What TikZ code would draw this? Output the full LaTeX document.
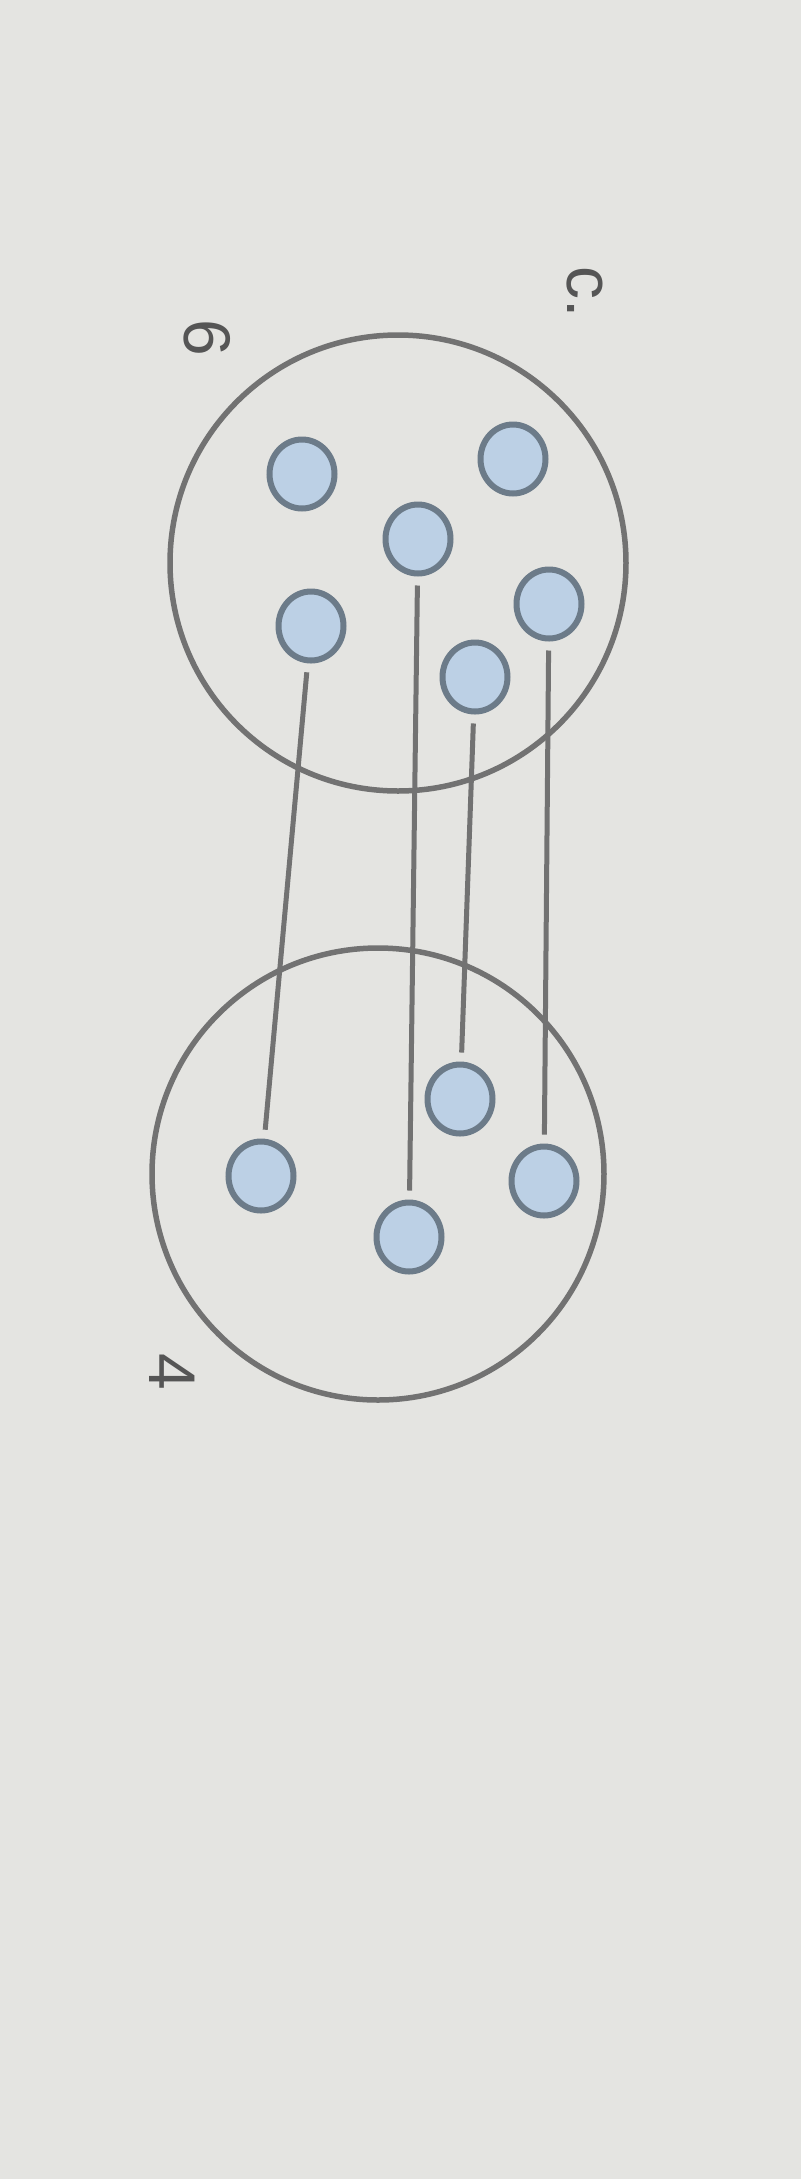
\documentclass[tikz,border=0pt]{standalone}
\usepackage{fontspec}
\setmainfont{Liberation Sans}
\usetikzlibrary{shapes.geometric}
\definecolor{paper}{HTML}{E4E4E1}
\definecolor{ring}{HTML}{727272}
\definecolor{dotfill}{HTML}{BCD0E5}
\definecolor{dotedge}{HTML}{6C7B89}
\definecolor{ink}{HTML}{555555}
\begin{document}
\begin{tikzpicture}[x=1pt,y=-1pt,
  setring/.style={circle,draw=ring,line width=5.5pt,minimum size=#1,inner sep=0pt,outer sep=0pt},
  elem/.style={ellipse,draw=dotedge,fill=dotfill,line width=6pt,minimum width=65pt,minimum height=69pt,inner sep=0pt,outer sep=0pt},
  link/.style={draw=ring,line width=5pt,shorten <=12pt,shorten >=12pt},
  lbl/.style={text=ink,font=\fontsize{66}{66}\selectfont,rotate=-90,inner sep=0pt}]
\fill[paper] (0,0) rectangle (801,2179);
\useasboundingbox (0,0) rectangle (801,2179);
% sets
\node[setring=456pt] (setA) at (398,563) {};
\node[setring=452pt] (setB) at (378,1174) {};
% elements of the first set
\node[elem] (a1) at (302,474) {};
\node[elem] (a2) at (513,459) {};
\node[elem] (a3) at (418,539) {};
\node[elem] (a4) at (311,626) {};
\node[elem] (a5) at (549,604) {};
\node[elem] (a6) at (475,677) {};
% elements of the second set
\node[elem] (b1) at (460,1099) {};
\node[elem] (b2) at (261,1176) {};
\node[elem] (b3) at (409,1237) {};
\node[elem] (b4) at (544,1181) {};
% connections
\draw[link] (a4) -- (b2);
\draw[link] (a3) -- (b3);
\draw[link] (a6) -- (b1);
\draw[link] (a5) -- (b4);
% labels
\node[lbl] (lc) at (585,292) {c.};
\node[lbl] (l6) at (207,338) {6};
\node[lbl] (l4) at (172,1372) {4};
\end{tikzpicture}
\end{document}
